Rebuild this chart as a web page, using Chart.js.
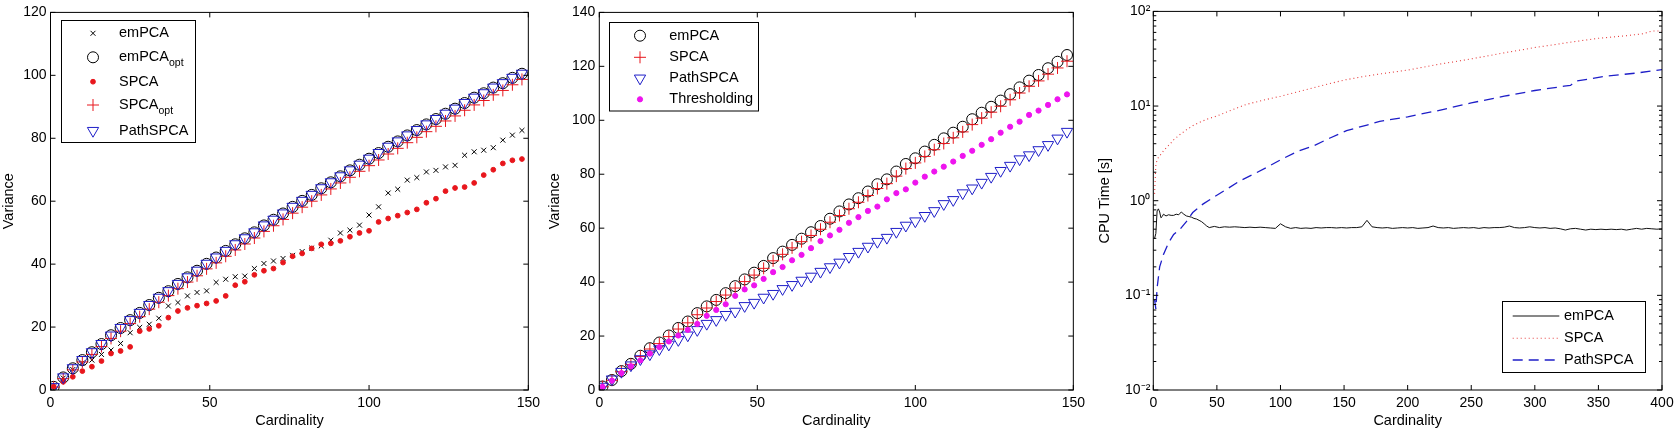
<!DOCTYPE html>
<html>
<head>
<meta charset="utf-8">
<script src="https://cdn.jsdelivr.net/npm/chart.js@4.4.1/dist/chart.umd.min.js"></script>
<style>
  body { margin: 0; background: #fff; }
  #wrap { position: relative; width: 1679px; height: 431px; }
  canvas { position: absolute; top: 0; }
</style>
</head>
<body>
<div id="wrap">
  <canvas id="varChart" width="545" height="431" style="left:0"></canvas>
  <canvas id="var2Chart" width="545" height="431" style="left:545px"></canvas>
  <canvas id="cpuChart" width="589" height="431" style="left:1090px"></canvas>
</div>
<script>
// cardinalities used for the two variance plots (every 3rd value)
const cardinality = [
    1, 4, 7, 10, 13, 16, 19, 22, 25, 28,
    31, 34, 37, 40, 43, 46, 49, 52, 55, 58,
    61, 64, 67, 70, 73, 76, 79, 82, 85, 88,
    91, 94, 97, 100, 103, 106, 109, 112, 115, 118,
    121, 124, 127, 130, 133, 136, 139, 142, 145, 148
];

// LEFT PLOT
const emPCA1 = [
    1.0, 3.8, 6.5, 8.6, 9.5, 11.3, 12.7, 14.8, 18.2, 19.9,
    20.9, 22.8, 26.7, 27.8, 29.9, 31.0, 31.5, 34.2, 35.2, 36.0,
    36.2, 38.6, 40.2, 41.0, 41.8, 42.8, 44.0, 45.1, 45.8, 47.6,
    49.9, 50.8, 52.4, 55.6, 58.2, 62.6, 63.8, 66.7, 67.5, 69.3,
    69.8, 70.9, 71.4, 74.6, 75.7, 76.2, 77.0, 79.4, 81.0, 82.5
];
const emPCAopt1 = [
    1.0, 4.0, 6.9, 9.5, 12.0, 14.6, 17.4, 19.7, 22.2, 24.5,
    27.0, 29.3, 31.4, 33.7, 35.8, 37.9, 40.1, 42.1, 44.2, 46.3,
    48.2, 50.1, 52.3, 54.1, 56.1, 58.2, 60.1, 62.0, 64.1, 66.0,
    67.9, 69.8, 71.6, 73.5, 75.3, 77.3, 79.0, 80.9, 82.6, 84.4,
    86.1, 87.8, 89.4, 91.2, 92.9, 94.3, 96.1, 97.5, 99.2, 100.5
];
const spca1 = [
    1.05, 2.6, 4.2, 6.0, 7.4, 9.2, 11.6, 12.4, 13.7, 18.7,
    19.4, 20.4, 23.0, 25.1, 26.1, 26.8, 27.5, 28.3, 29.9, 33.3,
    34.4, 36.6, 37.9, 38.6, 40.5, 42.5, 43.4, 45.0, 46.3, 46.6,
    47.4, 48.7, 49.9, 50.6, 53.4, 54.5, 55.4, 56.4, 57.4, 59.5,
    60.8, 63.2, 64.2, 64.5, 65.8, 68.3, 70.0, 72.0, 73.0, 73.4
];
const spcaOpt1 = [
    0.9, 3.6, 6.4, 8.9, 11.3, 13.8, 16.4, 18.7, 21.1, 23.3,
    25.7, 27.9, 30.0, 32.2, 34.3, 36.3, 38.5, 40.4, 42.5, 44.5,
    46.4, 48.3, 50.4, 52.2, 54.2, 56.2, 58.1, 60.0, 62.0, 63.9,
    65.8, 67.6, 69.5, 71.3, 73.1, 75.0, 76.8, 78.6, 80.3, 82.1,
    83.8, 85.5, 87.1, 88.9, 90.6, 92.0, 93.8, 95.2, 97.0, 98.7
];
const pathSpca1 = [
    1.0, 4.1, 7.0, 9.6, 12.1, 14.7, 17.4, 19.8, 22.3, 24.6,
    27.1, 29.4, 31.5, 33.8, 35.9, 38.0, 40.2, 42.2, 44.3, 46.4,
    48.3, 50.2, 52.4, 54.2, 56.2, 58.3, 60.2, 62.1, 64.2, 66.1,
    68.0, 69.9, 71.7, 73.6, 75.4, 77.4, 79.1, 81.0, 82.7, 84.5,
    86.2, 87.9, 89.5, 91.3, 93.0, 94.4, 96.2, 97.6, 99.3, 100.6
];

// MIDDLE PLOT
const emPCA2 = [
    1.3, 3.7, 7.0, 9.7, 12.7, 15.5, 17.6, 20.2, 23.0, 25.4,
    28.5, 31.0, 33.4, 35.9, 38.5, 41.0, 43.5, 46.0, 48.9, 51.3,
    53.8, 56.1, 58.5, 60.8, 63.5, 66.2, 68.8, 71.1, 73.6, 76.3,
    78.1, 81.0, 83.8, 85.9, 88.4, 90.9, 93.3, 95.4, 97.6, 100.4,
    102.8, 105.0, 107.3, 109.7, 112.2, 114.7, 116.8, 119.3, 121.7, 124.2
];
const spca2 = [
    1.2, 3.6, 6.8, 9.5, 12.4, 15.2, 17.2, 19.8, 22.6, 24.9,
    27.9, 30.4, 32.8, 35.2, 37.8, 40.2, 42.6, 45.1, 47.9, 50.3,
    52.7, 55.0, 57.3, 59.6, 62.2, 64.7, 67.2, 69.6, 72.1, 74.7,
    76.5, 79.3, 82.1, 84.2, 86.6, 89.1, 91.4, 93.5, 95.7, 98.4,
    100.8, 103.0, 105.2, 107.6, 110.1, 112.6, 114.6, 117.1, 119.4, 121.9
];
const pathSpca2 = [
    1.3, 4.0, 6.8, 9.2, 11.5, 13.3, 15.2, 16.9, 18.6, 20.3,
    22.3, 24.6, 26.0, 27.9, 29.1, 31.2, 32.4, 34.3, 35.7, 37.5,
    39.0, 40.6, 42.1, 43.9, 45.6, 47.3, 49.4, 51.3, 53.2, 55.0,
    56.5, 58.7, 61.0, 62.6, 64.6, 66.4, 69.0, 70.5, 73.0, 74.8,
    76.9, 79.1, 81.3, 83.2, 85.6, 87.1, 89.0, 90.9, 93.3, 95.8
];
const thresholding2 = [
    1.2, 3.5, 6.3, 8.8, 11.0, 13.5, 15.9, 18.0, 20.2, 22.3,
    24.5, 27.5, 29.7, 31.8, 34.9, 37.3, 38.8, 41.2, 43.7, 45.6,
    48.1, 50.1, 52.6, 55.2, 57.3, 59.4, 62.0, 64.1, 66.4, 68.0,
    70.7, 73.0, 74.4, 76.9, 79.1, 81.0, 82.8, 84.7, 86.8, 88.7,
    90.9, 93.0, 95.4, 97.6, 99.5, 102.0, 103.6, 105.7, 107.8, 109.6
];

// RIGHT PLOT (CPU time, log scale)
const emPCAcpuX = [
    1, 2, 3, 4, 5, 6, 7, 8, 10, 12, 14, 16, 18, 20, 22, 24, 26, 28, 30, 32, 34, 36, 38, 40, 42, 44,
    48, 52, 56, 60, 64, 68, 72, 76, 80, 84, 88, 92, 96, 100, 104, 108, 112, 116, 120, 124,
    128, 132, 136, 140, 144, 148, 152, 156, 160, 164, 168, 172, 176, 180, 184, 188, 192, 196,
    200, 204, 208, 212, 216, 220, 224, 228, 232, 236, 240, 244, 248, 252, 256, 260, 264, 268,
    272, 276, 280, 284, 288, 292, 296, 300, 304, 308, 312, 316, 320, 324, 328, 332, 336, 340,
    344, 348, 352, 356, 360, 364, 368, 372, 376, 380, 384, 388, 392, 396, 400
];
const emPCAcpu = [
    0.40, 0.45, 0.78, 0.82, 0.76, 0.66, 0.68, 0.72, 0.69, 0.71, 0.70, 0.70, 0.72, 0.71, 0.76, 0.72, 0.69, 0.68, 0.67, 0.65, 0.64, 0.62, 0.60, 0.57, 0.54, 0.52,
    0.535, 0.52, 0.53, 0.525, 0.53, 0.525, 0.52, 0.525, 0.52, 0.525, 0.52, 0.515, 0.51, 0.57, 0.53, 0.51, 0.52, 0.51, 0.515, 0.51,
    0.52, 0.515, 0.52, 0.52, 0.515, 0.52, 0.515, 0.52, 0.52, 0.53, 0.62, 0.53, 0.52, 0.515, 0.52, 0.51, 0.515, 0.52,
    0.515, 0.52, 0.51, 0.515, 0.52, 0.54, 0.52, 0.515, 0.52, 0.51, 0.515, 0.52, 0.515, 0.52, 0.51, 0.52, 0.515, 0.52,
    0.52, 0.525, 0.54, 0.52, 0.515, 0.52, 0.53, 0.52, 0.515, 0.52, 0.51, 0.515, 0.505, 0.49, 0.505, 0.51, 0.50, 0.49,
    0.50, 0.495, 0.50, 0.495, 0.50, 0.495, 0.50, 0.49, 0.50, 0.51, 0.50, 0.51, 0.505, 0.50, 0.505
];
const spcaCpuX = [
    1, 2, 3, 4, 6, 8, 10, 13, 16, 21, 26, 31, 36, 42, 50, 60, 73, 86, 100, 113,
    126, 139, 150, 165, 178, 200, 223, 250, 276, 300, 329, 350, 370, 385, 392, 400
];
const spcaCpu = [
    1.18, 2.4, 2.7, 2.86, 3.1, 3.36, 3.6, 3.95, 4.4, 5.0, 5.6, 6.2, 6.7, 7.25, 7.85, 8.9, 10.4, 11.5, 12.7, 14.1,
    15.6, 17.3, 18.8, 20.5, 21.8, 24.0, 27.4, 31.5, 36.5, 41.5, 47.5, 52.0, 55.0, 58.0, 62.0, 62.0
];
const pathSpcaCpuX = [
    1, 2, 3, 5, 8, 12, 16, 21, 26, 31, 39, 47, 58, 68, 79, 89, 100, 113, 126, 139,
    152, 168, 178, 200, 223, 250, 276, 300, 323, 328, 332, 355, 381, 400
];
const pathSpcaCpu = [
    0.09, 0.072, 0.12, 0.2, 0.27, 0.36, 0.44, 0.5, 0.6, 0.75, 0.92, 1.08, 1.33, 1.62, 1.91, 2.24, 2.7, 3.3, 3.8, 4.6,
    5.5, 6.3, 6.9, 7.7, 8.9, 10.8, 12.7, 14.6, 16.2, 16.5, 18.3, 20.6, 22.4, 24.3
];

const logLabels = { '2': '10²', '1': '10¹', '0': '10⁰', '-1': '10⁻¹', '-2': '10⁻²' };

const FONT = '"Liberation Sans", Arial, Helvetica, sans-serif';
Chart.defaults.font.family = FONT;
Chart.defaults.font.size = 14;
Chart.defaults.color = '#000';
Chart.defaults.animation = false;
Chart.defaults.events = [];
Chart.defaults.plugins.legend.display = false;
Chart.defaults.plugins.tooltip.enabled = false;

function pts(xs, ys) {
    return xs.map((x, i) => ({ x: x, y: ys[i] }));
}

function isDecade(v) {
    const e = Math.log10(v);
    return Math.abs(e - Math.round(e)) < 1e-6;
}

// matlab style box with inward ticks on all four sides
const framePlugin = {
    id: 'frame',
    afterDatasetsDraw(chart) {
        const { ctx, chartArea: a, scales } = chart;
        const x = scales.x, y = scales.y;
        const tick = (x1, y1, x2, y2) => {
            ctx.beginPath();
            ctx.moveTo(x1, y1);
            ctx.lineTo(x2, y2);
            ctx.stroke();
        };
        ctx.save();
        ctx.strokeStyle = '#000';
        ctx.lineWidth = 1;
        ctx.strokeRect(a.left, a.top, a.right - a.left, a.bottom - a.top);
        x.ticks.forEach(t => {
            const px = x.getPixelForValue(t.value);
            tick(px, a.bottom, px, a.bottom - 5);
            tick(px, a.top, px, a.top + 5);
        });
        if (y.type === 'logarithmic') {
            for (let e = -2; e <= 2; e++) {
                for (let m = 1; m <= 9; m++) {
                    const v = m * Math.pow(10, e);
                    if (v > y.max * 1.0001) break;
                    const py = y.getPixelForValue(v);
                    const len = m === 1 ? 5 : 3;
                    tick(a.left, py, a.left + len, py);
                    tick(a.right, py, a.right - len, py);
                }
            }
        } else {
            y.ticks.forEach(t => {
                const py = y.getPixelForValue(t.value);
                tick(a.left, py, a.left + 5, py);
                tick(a.right, py, a.right - 5, py);
            });
        }
        ctx.restore();
    }
};

// boxed legend drawn inside the axes, supports "name_sub" labels
const boxLegendPlugin = {
    id: 'boxLegend',
    afterDraw(chart, args, opts) {
        const ctx = chart.ctx;
        const b = opts.box;
        ctx.save();
        ctx.fillStyle = '#fff';
        ctx.fillRect(b.left, b.top, b.right - b.left, b.bottom - b.top);
        ctx.strokeStyle = '#000';
        ctx.lineWidth = 1;
        ctx.strokeRect(b.left, b.top, b.right - b.left, b.bottom - b.top);
        chart.data.datasets.forEach((ds, i) => {
            const y = opts.rows[i];
            if (opts.lines) {
                ctx.save();
                ctx.strokeStyle = ds.borderColor;
                ctx.lineWidth = ds.borderWidth;
                ctx.setLineDash(ds.borderDash || []);
                ctx.beginPath();
                ctx.moveTo(opts.lineFrom, y);
                ctx.lineTo(opts.lineTo, y);
                ctx.stroke();
                ctx.restore();
            } else {
                ctx.save();
                ctx.fillStyle = ds.pointBackgroundColor;
                ctx.strokeStyle = ds.pointBorderColor;
                ctx.lineWidth = ds.pointBorderWidth;
                Chart.helpers.drawPoint(ctx, {
                    pointStyle: ds.pointStyle,
                    rotation: ds.pointRotation || 0,
                    radius: ds.pointRadius,
                    borderWidth: ds.pointBorderWidth
                }, opts.markerX, y);
                ctx.restore();
            }
            const parts = ds.label.split('_');
            ctx.fillStyle = '#000';
            ctx.textBaseline = 'middle';
            ctx.textAlign = 'left';
            ctx.font = '14.5px ' + FONT;
            ctx.fillText(parts[0], opts.textX, y);
            if (parts[1]) {
                const w = ctx.measureText(parts[0]).width;
                ctx.font = '10.5px ' + FONT;
                ctx.fillText(parts[1], opts.textX + w, y + 6);
            }
        });
        ctx.restore();
    }
};

function xAxis(max, titlePad) {
    return {
        type: 'linear',
        min: 0,
        max: max,
        grid: { display: false, drawTicks: false },
        border: { display: false },
        ticks: { stepSize: 50, padding: 5, maxRotation: 0, font: { size: 14 } },
        title: { display: true, text: 'Cardinality', font: { size: 14.5 }, padding: { top: 0, bottom: titlePad } },
        afterFit: s => { s.height = 41; }
    };
}

function yAxis(max, title, width, titlePad) {
    return {
        type: 'linear',
        min: 0,
        max: max,
        grid: { display: false, drawTicks: false },
        border: { display: false },
        ticks: { stepSize: 20, padding: 4, font: { size: 14 } },
        title: { display: true, text: title, font: { size: 14.5 }, padding: { top: titlePad, bottom: 0 } },
        afterFit: s => { s.width = width; }
    };
}

function markers(label, values, style, color, radius, filled, order, rotation) {
    return {
        label: label,
        data: pts(cardinality, values),
        showLine: false,
        pointStyle: style,
        pointRotation: rotation || 0,
        pointRadius: radius,
        pointBorderWidth: 1,
        pointBorderColor: color,
        pointBackgroundColor: filled ? color : 'rgba(0,0,0,0)',
        borderColor: color,
        backgroundColor: filled ? color : 'rgba(0,0,0,0)',
        order: order
    };
}

const RED = 'rgb(232, 22, 28)';
const BLUE = 'rgb(30, 30, 200)';
const MAGENTA = 'rgb(238, 20, 238)';

new Chart(document.getElementById('varChart'), {
    type: 'scatter',
    data: {
        datasets: [
            markers('emPCA', emPCA1, 'crossRot', '#000', 3.5, false, 4),
            markers('emPCA_opt', emPCAopt1, 'circle', '#000', 5.5, false, 3),
            markers('SPCA', spca1, 'circle', RED, 2.4, true, 2),
            markers('SPCA_opt', spcaOpt1, 'cross', RED, 6, false, 1),
            markers('PathSPCA', pathSpca1, 'triangle', BLUE, 6.5, false, 0, 180)
        ]
    },
    options: {
        responsive: false,
        layout: { padding: { top: 12, right: 15, left: 0, bottom: 0 } },
        scales: { x: xAxis(150, 1.3), y: yAxis(120, 'Variance', 50.5, 0) },
        plugins: {
            boxLegend: { box: { left: 61.5, top: 20.5, right: 195.5, bottom: 142.5 }, markerX: 93, textX: 119, rows: [33.3, 57.3, 81.7, 105, 130.7] }
        }
    },
    plugins: [framePlugin, boxLegendPlugin]
});

new Chart(document.getElementById('var2Chart'), {
    type: 'scatter',
    data: {
        datasets: [
            markers('emPCA', emPCA2, 'circle', '#000', 5.5, false, 3),
            markers('SPCA', spca2, 'cross', RED, 6, false, 2),
            markers('PathSPCA', pathSpca2, 'triangle', BLUE, 6.5, false, 1, 180),
            markers('Thresholding', thresholding2, 'circle', MAGENTA, 2.6, true, 0)
        ]
    },
    options: {
        responsive: false,
        layout: { padding: { top: 12, right: 11, left: 0, bottom: 0 } },
        scales: { x: xAxis(150, 1.3), y: yAxis(140, 'Variance', 54.3, 1.3) },
        plugins: {
            boxLegend: { box: { left: 64.5, top: 22.5, right: 213.5, bottom: 111 }, markerX: 95, textX: 124.3, rows: [35.7, 57.3, 78.3, 99.3] }
        }
    },
    plugins: [framePlugin, boxLegendPlugin]
});

new Chart(document.getElementById('cpuChart'), {
    type: 'scatter',
    data: {
        datasets: [
            {
                label: 'emPCA',
                data: pts(emPCAcpuX, emPCAcpu),
                showLine: true,
                pointRadius: 0,
                borderWidth: 1,
                borderColor: '#111',
                order: 2
            },
            {
                label: 'SPCA',
                data: pts(spcaCpuX, spcaCpu),
                showLine: true,
                pointRadius: 0,
                borderWidth: 1.1,
                borderColor: 'rgb(230, 60, 60)',
                borderDash: [1, 3],
                order: 1
            },
            {
                label: 'PathSPCA',
                data: pts(pathSpcaCpuX, pathSpcaCpu),
                showLine: true,
                pointRadius: 0,
                borderWidth: 1.3,
                borderColor: BLUE,
                borderDash: [10, 6],
                order: 0
            }
        ]
    },
    options: {
        responsive: false,
        layout: { padding: { top: 10.7, right: 17, left: 0, bottom: 0 } },
        scales: {
            x: xAxis(400, 1.3),
            y: {
                type: 'logarithmic',
                min: 0.01,
                max: 100,
                grid: { display: false, drawTicks: false },
                border: { display: false },
                ticks: {
                    autoSkip: false,
                    padding: 3,
                    font: { size: 14 },
                    callback: v => isDecade(v) ? logLabels[String(Math.round(Math.log10(v)))] : ''
                },
                title: { display: true, text: 'CPU Time [s]', font: { size: 14.5 }, padding: { top: 6.3, bottom: 0 } },
                afterFit: s => { s.width = 63.3; }
            }
        },
        plugins: {
            boxLegend: { box: { left: 412.5, top: 301.5, right: 555.5, bottom: 372.5 }, lines: true, lineFrom: 422.7, lineTo: 469.3, textX: 474, rows: [316, 338.3, 360] }
        }
    },
    plugins: [framePlugin, boxLegendPlugin]
});
</script>
</body>
</html>
